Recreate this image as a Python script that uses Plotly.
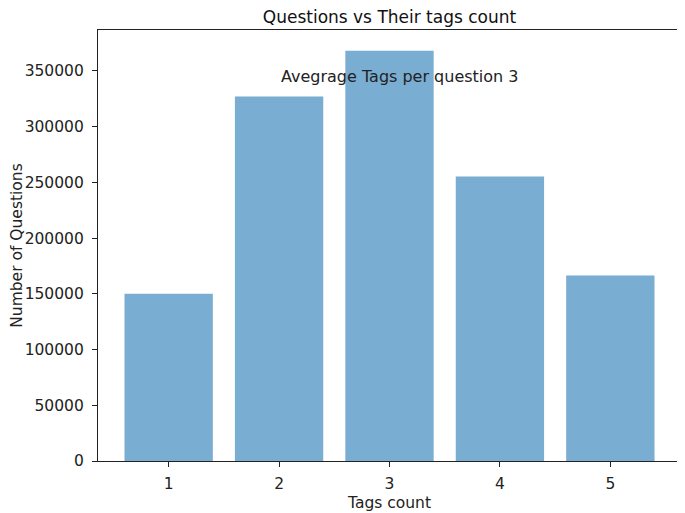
import plotly.graph_objects as go

tags_count = [1, 2, 3, 4, 5]
questions = [150000, 327000, 368000, 255300, 166400]
avg_label = "Avegrage Tags per question 3"

fig = go.Figure()
fig.add_trace(go.Bar(x=tags_count, y=questions, width=0.8,
                     marker=dict(color="rgba(31,119,180,0.6)", line=dict(width=0))))

# text placed like plt.text(2, 340000, ...)
fig.add_annotation(x=2, y=340000, text=avg_label, showarrow=False,
                   xanchor="left", yanchor="middle", yshift=6,
                   font=dict(size=16, color="#222"))

axis_style = dict(showline=True, linecolor="#222", linewidth=1.2, mirror=True,
                  ticks="outside", ticklen=5, tickwidth=1.2, tickcolor="#222",
                  showgrid=False, zeroline=False, automargin=False,
                  tickfont=dict(size=15.5, color="#222"),
                  title_font=dict(size=15.5, color="#222"))

fig.update_xaxes(range=[0.36, 5.64], tickvals=tags_count, ticklabelstandoff=3,
                 title_text="Tags count", title_standoff=5, **axis_style)
fig.update_yaxes(range=[0, 386700], dtick=50000, tickformat="d", ticklabelstandoff=5,
                 title_text="Number of Questions", title_standoff=1, **axis_style)

# page body adds ~8px offset, so margins are trimmed to match
fig.update_layout(
    width=677, height=505,
    margin=dict(l=90, r=4, t=22, b=52),
    plot_bgcolor="white", paper_bgcolor="white",
    font=dict(family="DejaVu Sans", color="#222"),
    title=dict(text="Questions vs Their tags count", x=0.5, xref="paper",
               y=1, yref="container", yanchor="top", pad=dict(t=3),
               font=dict(size=17, color="#111")),
    showlegend=False,
)

fig.write_html("out.html")
